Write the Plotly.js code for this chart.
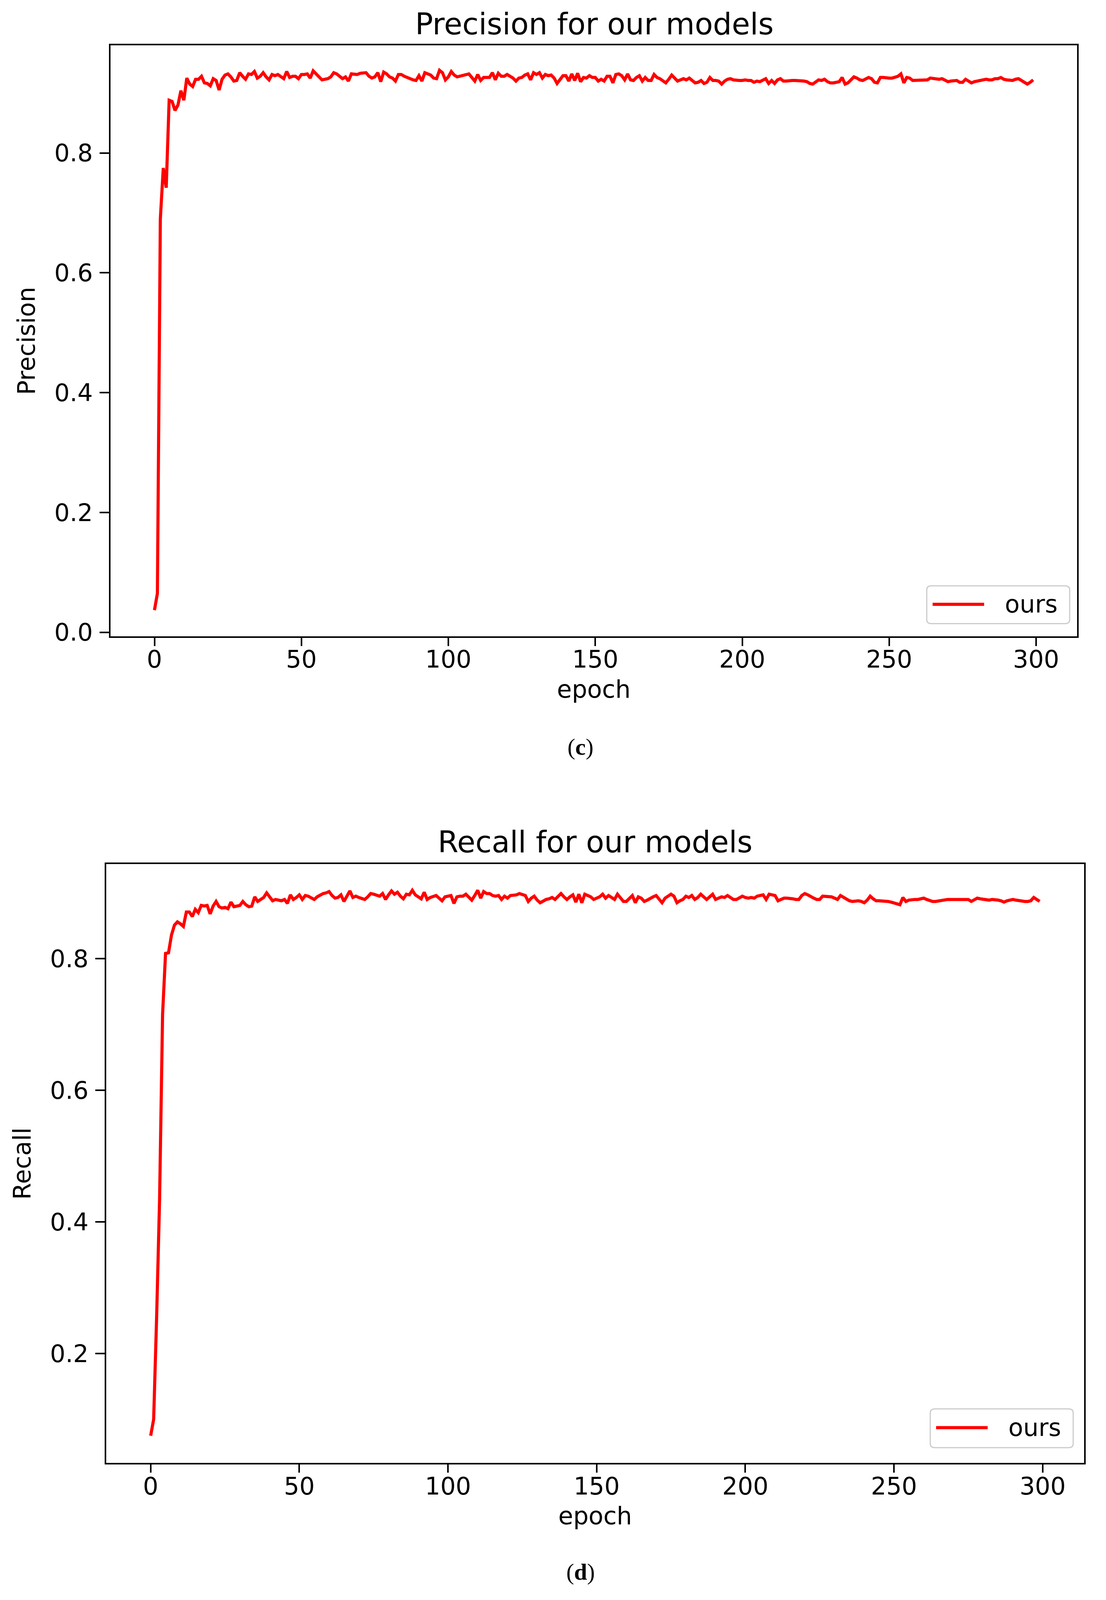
<!DOCTYPE html>
<html>
<head>
<meta charset="utf-8">
<script src="https://cdn.plot.ly/plotly-3.0.1.min.js"></script>
<style>html,body{margin:0;padding:0;background:#fff;overflow:hidden;}#chart{width:2832px;}</style>
</head>
<body>
<div id="chart"></div>
<script>
// ---- data ----
const seriesName = "ours";
const xTickVals = [0, 50, 100, 150, 200, 250, 300];
const precisionTickVals = [0.0, 0.2, 0.4, 0.6, 0.8];
const recallTickVals = [0.2, 0.4, 0.6, 0.8];

const precision = [
0.037,0.065,0.690,0.775,0.742,0.888,0.886,0.871,0.880,0.904,
0.888,0.925,0.915,0.911,0.923,0.923,0.928,0.917,0.916,0.912,
0.924,0.921,0.905,0.923,0.930,0.932,0.927,0.920,0.921,0.934,
0.928,0.923,0.932,0.931,0.936,0.925,0.928,0.934,0.927,0.922,
0.931,0.929,0.931,0.927,0.924,0.936,0.926,0.928,0.928,0.924,
0.931,0.931,0.932,0.925,0.937,0.932,0.926,0.922,0.923,0.924,
0.927,0.934,0.932,0.928,0.924,0.927,0.920,0.932,0.932,0.931,
0.933,0.934,0.934,0.928,0.925,0.927,0.934,0.919,0.935,0.932,
0.927,0.925,0.920,0.931,0.931,0.928,0.926,0.923,0.922,0.921,
0.929,0.920,0.934,0.932,0.930,0.925,0.924,0.938,0.934,0.922,
0.927,0.936,0.930,0.927,0.928,0.929,0.930,0.932,0.926,0.920,
0.931,0.921,0.926,0.926,0.926,0.934,0.922,0.933,0.928,0.928,
0.931,0.928,0.925,0.920,0.925,0.926,0.930,0.932,0.922,0.934,
0.931,0.934,0.925,0.931,0.929,0.930,0.925,0.916,0.923,0.929,
0.929,0.920,0.932,0.921,0.933,0.919,0.926,0.925,0.929,0.926,
0.926,0.920,0.923,0.920,0.928,0.928,0.917,0.931,0.932,0.929,
0.922,0.932,0.922,0.921,0.926,0.929,0.920,0.926,0.921,0.921,
0.931,0.926,0.924,0.921,0.917,0.923,0.930,0.925,0.920,0.922,
0.924,0.922,0.925,0.921,0.917,0.918,0.921,0.916,0.918,0.926,
0.921,0.921,0.920,0.915,0.920,0.923,0.924,0.922,0.921,0.921,
0.921,0.922,0.921,0.921,0.918,0.920,0.919,0.922,0.924,0.916,
0.921,0.916,0.922,0.924,0.920,0.920,0.921,0.921,0.921,0.921,
0.921,0.920,0.919,0.916,0.915,0.919,0.922,0.921,0.923,0.919,
0.917,0.917,0.918,0.919,0.926,0.915,0.917,0.922,0.927,0.925,
0.922,0.921,0.923,0.926,0.924,0.918,0.917,0.926,0.926,0.925,
0.925,0.925,0.926,0.928,0.932,0.917,0.926,0.925,0.921,0.921,
0.922,0.921,0.921,0.922,0.925,0.924,0.924,0.923,0.924,0.921,
0.919,0.920,0.920,0.921,0.918,0.918,0.923,0.920,0.917,0.919,
0.920,0.921,0.922,0.923,0.922,0.922,0.924,0.924,0.926,0.923,
0.922,0.922,0.921,0.923,0.924,0.921,0.918,0.915,0.918,0.922
];

const recall = [
0.075,0.100,0.255,0.435,0.715,0.808,0.809,0.836,0.851,0.856,
0.853,0.849,0.871,0.871,0.864,0.875,0.870,0.881,0.880,0.881,
0.868,0.880,0.887,0.879,0.877,0.878,0.876,0.886,0.879,0.880,
0.881,0.887,0.882,0.879,0.880,0.894,0.887,0.890,0.893,0.900,
0.894,0.888,0.890,0.889,0.888,0.890,0.884,0.897,0.890,0.893,
0.897,0.890,0.896,0.895,0.892,0.890,0.894,0.897,0.899,0.900,
0.902,0.896,0.892,0.893,0.897,0.887,0.895,0.903,0.893,0.895,
0.893,0.891,0.890,0.894,0.899,0.898,0.897,0.895,0.899,0.890,
0.897,0.903,0.898,0.901,0.895,0.891,0.898,0.897,0.904,0.897,
0.894,0.891,0.901,0.890,0.893,0.895,0.896,0.892,0.888,0.894,
0.895,0.896,0.884,0.894,0.895,0.895,0.898,0.893,0.889,0.896,
0.904,0.892,0.902,0.899,0.899,0.896,0.895,0.896,0.890,0.895,
0.892,0.896,0.896,0.897,0.899,0.898,0.896,0.887,0.892,0.895,
0.889,0.885,0.888,0.890,0.891,0.893,0.890,0.895,0.899,0.894,
0.890,0.894,0.897,0.886,0.898,0.885,0.898,0.896,0.894,0.890,
0.892,0.894,0.898,0.892,0.896,0.893,0.890,0.898,0.893,0.887,
0.887,0.892,0.896,0.885,0.894,0.892,0.887,0.889,0.892,0.894,
0.896,0.890,0.885,0.892,0.895,0.898,0.895,0.885,0.888,0.890,
0.895,0.893,0.896,0.890,0.893,0.898,0.894,0.890,0.894,0.898,
0.890,0.892,0.894,0.893,0.896,0.893,0.890,0.890,0.892,0.895,
0.893,0.892,0.893,0.892,0.895,0.896,0.897,0.890,0.898,0.897,
0.896,0.888,0.890,0.892,0.892,0.892,0.891,0.890,0.890,0.896,
0.899,0.897,0.894,0.892,0.890,0.890,0.895,0.895,0.894,0.894,
0.892,0.890,0.896,0.893,0.890,0.888,0.887,0.888,0.888,0.887,
0.885,0.889,0.895,0.891,0.888,0.888,0.888,0.888,0.887,0.886,
0.885,0.884,0.882,0.893,0.887,0.889,0.890,0.890,0.890,0.891,
0.892,0.890,0.888,0.887,0.887,0.888,0.888,0.889,0.890,0.890,
0.890,0.890,0.891,0.890,0.890,0.890,0.887,0.890,0.892,0.891,
0.890,0.889,0.889,0.890,0.890,0.889,0.888,0.886,0.888,0.889,
0.890,0.889,0.888,0.887,0.887,0.887,0.888,0.893,0.890,0.887
];

const epochs = precision.map((_, i) => i);

// ---- geometry: reference frame is 2832 x 4790; fit into the real window ----
const REF_W = 2832, REF_H = 4790;
const W = REF_W;
const H = Math.min(window.innerHeight || REF_H, REF_H);
const sy = H / REF_H;               // vertical fit factor
document.getElementById("chart").style.height = H + "px";
const px = v => v / REF_W;          // reference pixel -> paper x
const py = v => 1 - v / REF_H;      // reference pixel -> paper y

const FONT = "DejaVu Sans, sans-serif";
const tickFont = {family: FONT, size: 62, color: "#000"};
const titleFont = {family: FONT, size: 62, color: "#000"};

function xAxis(domain, anchor) {
  return {
    domain: domain, anchor: anchor, range: [-14.95, 313.95],
    tickvals: xTickVals, ticks: "outside", ticklen: Math.round(24 * sy), tickwidth: 4, tickcolor: "#000",
    showline: true, linecolor: "#000", linewidth: 4, mirror: true,
    showgrid: false, zeroline: false, tickfont: tickFont,
    ticklabelstandoff: Math.round(-20 + 4 * (1 - sy)),
    title: {text: "epoch", font: titleFont, standoff: Math.round(20 + 13 * (1 - sy) / 0.145) - 13}
  };
}
function yAxis(domain, anchor, range, ticks, label) {
  return {
    domain: domain, anchor: anchor, range: range,
    tickvals: ticks, tickformat: ".1f", ticks: "outside", ticklen: 24, tickwidth: 4, tickcolor: "#000",
    showline: true, linecolor: "#000", linewidth: 4, mirror: true,
    showgrid: false, zeroline: false, tickfont: tickFont, ticklabelstandoff: 5,
    title: {text: label, font: titleFont, standoff: 30}
  };
}

const traces = [
  {x: epochs, y: precision, type: "scatter", mode: "lines", name: seriesName,
   line: {color: "#ff0000", width: 8}, xaxis: "x", yaxis: "y", showlegend: false},
  {x: epochs, y: recall, type: "scatter", mode: "lines", name: seriesName,
   line: {color: "#ff0000", width: 8}, xaxis: "x2", yaxis: "y2", showlegend: false}
];

// legend boxes (matplotlib style)
function roundRect(x0, y0, x1, y1, r) {
  const X = v => px(v), Y = v => py(v);
  return `M ${X(x0 + r)},${Y(y0)} L ${X(x1 - r)},${Y(y0)} Q ${X(x1)},${Y(y0)} ${X(x1)},${Y(y0 + r)} ` +
         `L ${X(x1)},${Y(y1 - r)} Q ${X(x1)},${Y(y1)} ${X(x1 - r)},${Y(y1)} L ${X(x0 + r)},${Y(y1)} ` +
         `Q ${X(x0)},${Y(y1)} ${X(x0)},${Y(y1 - r)} L ${X(x0)},${Y(y0 + r)} Q ${X(x0)},${Y(y0)} ${X(x0 + r)},${Y(y0)} Z`;
}
function legendShapes(box, lineX0, lineX1, lineY) {
  return [
    {type: "path", xref: "paper", yref: "paper", path: roundRect(box[0], box[1], box[2], box[3], 12),
     fillcolor: "rgba(255,255,255,0.8)", line: {color: "#cccccc", width: 3}, layer: "above"},
    {type: "line", xref: "paper", yref: "paper", x0: px(lineX0), x1: px(lineX1), y0: py(lineY), y1: py(lineY),
     line: {color: "#ff0000", width: 8}, layer: "above"}
  ];
}

const layout = {
  width: W, height: H, margin: {l: 0, r: 0, t: 0, b: 0, autoexpand: false},
  paper_bgcolor: "#fff", plot_bgcolor: "#fff",
  showlegend: false,
  title: {text: "Precision for our models", font: {family: FONT, size: 76, color: "#000"},
          x: px(1522), xref: "paper", xanchor: "center", y: py(72), yref: "paper", yanchor: "middle"},
  xaxis: xAxis([px(283), px(2758)], "y"),
  yaxis: yAxis([py(1905), py(136)], "x", [-0.0067, 0.9795], precisionTickVals, "Precision"),
  xaxis2: xAxis([px(272), px(2776)], "y2"),
  yaxis2: yAxis([py(4380), py(2587)], "x2", [0.0335, 0.9437], recallTickVals, "Recall"),
  shapes: legendShapes([2373, 1754, 2739, 1867], 2388, 2520, 1809)
    .concat(legendShapes([2382, 4218, 2748, 4334], 2397, 2529, 4274)),
  annotations: [
    {text: "Recall for our models", font: {family: FONT, size: 76, color: "#000"},
     x: px(1524), y: py(2521), xref: "paper", yref: "paper", xanchor: "center", yanchor: "middle", showarrow: false},
    {text: seriesName, font: {family: FONT, size: 62, color: "#000"},
     x: px(2571), y: py(1809), xref: "paper", yref: "paper", xanchor: "left", yanchor: "middle", showarrow: false},
    {text: seriesName, font: {family: FONT, size: 62, color: "#000"},
     x: px(2580), y: py(4274), xref: "paper", yref: "paper", xanchor: "left", yanchor: "middle", showarrow: false},
    {text: "(<b>c</b>)", font: {family: "Liberation Serif, serif", size: 60, color: "#000"},
     x: px(1486), y: py(2236), xref: "paper", yref: "paper", xanchor: "center", yanchor: "middle", showarrow: false},
    {text: "(<b>d</b>)", font: {family: "Liberation Serif, serif", size: 60, color: "#000"},
     x: px(1486), y: py(4706), xref: "paper", yref: "paper", xanchor: "center", yanchor: "middle", showarrow: false}
  ]
};

Plotly.newPlot("chart", traces, layout, {staticPlot: true, displayModeBar: false});
</script>
</body>
</html>
